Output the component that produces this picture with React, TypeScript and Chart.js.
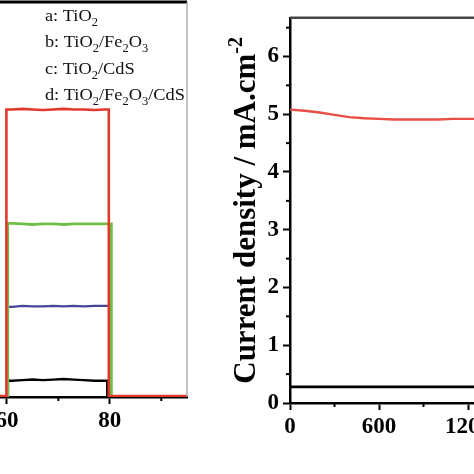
import React, { useEffect, useRef } from 'react';
import { Chart, registerables } from 'chart.js';

Chart.register(...registerables);

// ---------- Left panel (on/off transient, partly cropped) ----------
const plateauTime = [61, 63, 65, 67, 69, 71, 73, 75, 77, 79];
const redPlateau = [4.95, 4.96, 4.95, 4.94, 4.95, 4.96, 4.95, 4.95, 4.94, 4.95];
const greenPlateau = [2.99, 2.98, 2.97, 2.98, 2.98, 2.97, 2.98, 2.98, 2.98, 2.98];
const bluePlateau = [1.55, 1.57, 1.56, 1.56, 1.57, 1.56, 1.57, 1.56, 1.57, 1.57];
const blackPlateau = [0.28, 0.29, 0.3, 0.29, 0.3, 0.31, 0.3, 0.29, 0.28, 0.28];
const onTimes = { red: 59.9, green: 60.15, blue: 60.2, black: 60.2 };
const offTimes = { red: 79.8, green: 80.3, blue: 79.9, black: 79.5 };
const darkLevel = { red: 0.015, green: 0.0, blue: 0.0, black: 0.0 };
const leftRange = [40, 95];
const leftMajorTicks = [60, 80];
const leftMinorTicks = [50, 70, 90];
const legendLabels = ['a: TiO_2', 'b: TiO_2/Fe_2O_3', 'c: TiO_2/CdS', 'd: TiO_2/Fe_2O_3/CdS'];

// ---------- Right panel (stability test, partly cropped) ----------
const rightTime = [0, 100, 200, 300, 400, 500, 600, 700, 800, 900, 1000, 1100, 1200, 1300];
const rightRed = [5.08, 5.06, 5.03, 4.99, 4.95, 4.93, 4.92, 4.91, 4.91, 4.91, 4.91, 4.92, 4.92, 4.92];
const rightBlack = [0.28, 0.28, 0.28, 0.28, 0.28, 0.28, 0.28, 0.28, 0.28, 0.28, 0.28, 0.28, 0.28, 0.28];
const rightXMinor = [300, 900, 1500, 2100, 2700, 3300];
const rightYMinor = [0.5, 1.5, 2.5, 3.5, 4.5, 5.5, 6.5];
const yTitleMain = 'Current density / mA.cm';
const yTitleSup = '-2';

const FONT = '"Liberation Serif", "Times New Roman", serif';

function pulse(key: 'red' | 'green' | 'blue' | 'black', plateau: number[]) {
  const off = darkLevel[key];
  const pts: { x: number; y: number }[] = [
    { x: leftRange[0], y: off },
    { x: onTimes[key], y: off },
    { x: onTimes[key], y: plateau[0] },
  ];
  plateauTime.forEach((t, i) => pts.push({ x: t, y: plateau[i] }));
  pts.push({ x: offTimes[key], y: plateau[plateau.length - 1] });
  pts.push({ x: offTimes[key], y: off });
  pts.push({ x: leftRange[1], y: off });
  return pts;
}

function drawRich(ctx: CanvasRenderingContext2D, x: number, y: number, label: string, size: number, sx: number) {
  const parts = label.split(/_(\d)/);
  ctx.save();
  ctx.translate(x, y);
  ctx.scale(sx, 1);
  ctx.fillStyle = '#111';
  ctx.textBaseline = 'alphabetic';
  ctx.textAlign = 'left';
  let cx = 0;
  parts.forEach((t, i) => {
    if (!t) return;
    const sub = i % 2 === 1;
    const fs = sub ? size * 0.68 : size;
    ctx.font = `${fs}px ${FONT}`;
    ctx.fillText(t, cx, sub ? size * 0.3 : 0);
    cx += ctx.measureText(t).width;
  });
  ctx.restore();
}

const tickFont = { family: FONT, weight: 'bold' as const, size: 23 };
const plainLabel = (v: any) => String(v);

export default function App() {
  const leftRef = useRef<HTMLCanvasElement>(null);
  const rightRef = useRef<HTMLCanvasElement>(null);

  useEffect(() => {
    document.body.style.margin = '0';
    const leftDeco = {
      id: 'leftDeco',
      afterDraw(chart: any) {
        const { ctx, chartArea: a } = chart;
        const xs = chart.scales.x;
        ctx.save();
        ctx.strokeStyle = '#000';
        ctx.lineWidth = 3;
        ctx.beginPath();
        ctx.moveTo(a.left, a.top);
        ctx.lineTo(a.right, a.top);
        ctx.stroke();
        ctx.strokeStyle = '#999';
        ctx.lineWidth = 1.2;
        ctx.beginPath();
        ctx.moveTo(a.right, a.top);
        ctx.lineTo(a.right, a.bottom);
        ctx.stroke();
        ctx.strokeStyle = '#000';
        ctx.lineWidth = 2;
        leftMinorTicks.forEach((v) => {
          const px = xs.getPixelForValue(v);
          ctx.beginPath();
          ctx.moveTo(px, a.bottom);
          ctx.lineTo(px, a.bottom + 4);
          ctx.stroke();
        });
        ctx.restore();
        const baseX = xs.getPixelForValue(60) + 38;
        const baselines = [21, 47, 73.5, 100];
        legendLabels.forEach((l, i) => drawRich(ctx, baseX, baselines[i], l, 17, 1.08));
      },
    };

    const left = new Chart(leftRef.current!, {
      type: 'line',
      data: {
        datasets: [
          { data: pulse('red', redPlateau), borderColor: 'rgb(226,56,44)', borderWidth: 2.6 },
          { data: pulse('green', greenPlateau), borderColor: 'rgb(112,190,72)', borderWidth: 2.8 },
          { data: pulse('blue', bluePlateau), borderColor: 'rgb(72,70,150)', borderWidth: 2.2 },
          { data: pulse('black', blackPlateau), borderColor: '#000', borderWidth: 2.4 },
        ],
      },
      options: {
        responsive: false,
        animation: false,
        layout: { padding: { left: 0, right: 17, top: 2, bottom: 0 } },
        elements: { point: { radius: 0 }, line: { tension: 0 } },
        plugins: { legend: { display: false }, tooltip: { enabled: false } },
        scales: {
          x: {
            type: 'linear',
            min: leftRange[0],
            max: leftRange[1],
            afterBuildTicks: (s: any) => {
              s.ticks = leftMajorTicks.map((v) => ({ value: v }));
            },
            afterFit: (s: any) => {
              s.height = 77;
            },
            grid: { drawOnChartArea: false, tickLength: 7, tickWidth: 2, tickColor: '#000' },
            border: { color: '#000', width: 2.5 },
            ticks: { color: '#000', font: tickFont, padding: 3, maxRotation: 0, autoSkip: false, callback: plainLabel },
          },
          y: { display: false, min: 0, max: 6.8 },
        },
      },
      plugins: [leftDeco],
    } as any);

    const rightDeco = {
      id: 'rightDeco',
      afterDraw(chart: any) {
        const { ctx, chartArea: a } = chart;
        const xs = chart.scales.x;
        const ys = chart.scales.y;
        ctx.save();
        ctx.strokeStyle = '#444';
        ctx.lineWidth = 2.5;
        ctx.beginPath();
        ctx.moveTo(a.left, a.top);
        ctx.lineTo(a.right, a.top);
        ctx.stroke();
        ctx.strokeStyle = '#000';
        ctx.lineWidth = 2;
        rightXMinor.forEach((v) => {
          const px = xs.getPixelForValue(v);
          ctx.beginPath();
          ctx.moveTo(px, a.bottom);
          ctx.lineTo(px, a.bottom + 4);
          ctx.stroke();
        });
        rightYMinor.forEach((v) => {
          const py = ys.getPixelForValue(v);
          ctx.beginPath();
          ctx.moveTo(a.left, py);
          ctx.lineTo(a.left - 4, py);
          ctx.stroke();
        });
        const size = 31;
        const supSize = 20;
        ctx.fillStyle = '#000';
        ctx.textBaseline = 'alphabetic';
        ctx.textAlign = 'left';
        ctx.font = `bold ${size}px ${FONT}`;
        const mw = ctx.measureText(yTitleMain).width;
        ctx.font = `bold ${supSize}px ${FONT}`;
        const sw = ctx.measureText(yTitleSup).width;
        const total = mw + sw;
        ctx.translate(67, (a.top + a.bottom) / 2);
        ctx.rotate(-Math.PI / 2);
        ctx.font = `bold ${size}px ${FONT}`;
        ctx.fillText(yTitleMain, -total / 2, 0);
        ctx.font = `bold ${supSize}px ${FONT}`;
        ctx.fillText(yTitleSup, -total / 2 + mw, -13);
        ctx.restore();
      },
    };

    const right = new Chart(rightRef.current!, {
      type: 'line',
      data: {
        datasets: [
          {
            data: rightTime.map((t, i) => ({ x: t, y: rightRed[i] })),
            borderColor: 'rgb(232,78,68)',
            borderWidth: 2.4,
          },
          {
            data: rightTime.map((t, i) => ({ x: t, y: rightBlack[i] })),
            borderColor: '#000',
            borderWidth: 2.6,
          },
        ],
      },
      options: {
        responsive: false,
        animation: false,
        layout: { padding: { left: 0, right: 64, top: 2, bottom: 0 } },
        elements: { point: { radius: 0 }, line: { tension: 0 } },
        plugins: { legend: { display: false }, tooltip: { enabled: false } },
        scales: {
          x: {
            type: 'linear',
            min: 0,
            max: 3600,
            afterBuildTicks: (s: any) => {
              s.ticks = s.ticks.filter((t: any) => t.value < 3600 && t.value % 600 === 0);
            },
            afterFit: (s: any) => {
              s.height = 71;
            },
            grid: { drawOnChartArea: false, tickLength: 7, tickWidth: 2, tickColor: '#000' },
            border: { color: '#000', width: 2.5 },
            ticks: { stepSize: 600, color: '#000', font: tickFont, padding: 3, maxRotation: 0, autoSkip: false, callback: plainLabel },
          },
          y: {
            min: 0,
            max: 6.67,
            afterBuildTicks: (s: any) => {
              s.ticks = s.ticks.filter((t: any) => Number.isInteger(t.value));
            },
            afterFit: (s: any) => {
              s.width = 102;
            },
            grid: { drawOnChartArea: false, tickLength: 7, tickWidth: 2, tickColor: '#000' },
            border: { color: '#000', width: 2.5 },
            ticks: { stepSize: 1, color: '#000', font: tickFont, padding: 4, autoSkip: false, callback: plainLabel },
          },
        },
      },
      plugins: [rightDeco],
    } as any);

    return () => {
      left.destroy();
      right.destroy();
    };
  }, []);

  return (
    <div
      style={{
        position: 'fixed',
        left: 0,
        top: 0,
        width: 474,
        height: 474,
        overflow: 'hidden',
        background: '#fff',
      }}
    >
      <canvas ref={leftRef} width={300} height={474} style={{ position: 'absolute', left: -96, top: 0 }} />
      <canvas ref={rightRef} width={700} height={474} style={{ position: 'absolute', left: 188, top: 0 }} />
    </div>
  );
}
